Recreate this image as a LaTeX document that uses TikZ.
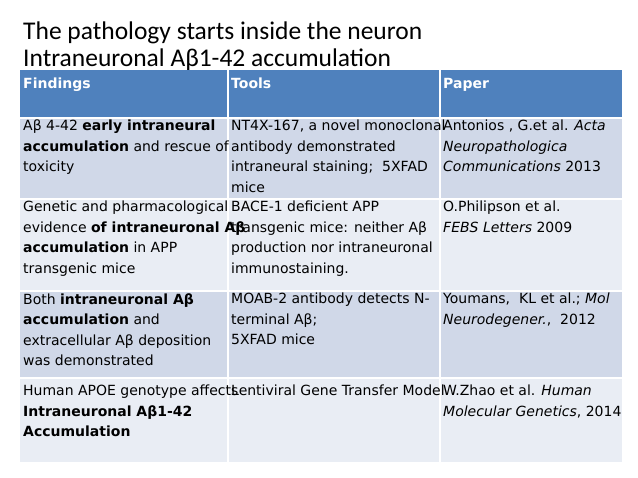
\documentclass[tikz,border=0pt]{standalone}
\usepackage{fontspec}
\setmainfont{DejaVu Sans}
\newfontfamily\titlefont{Carlito}
\definecolor{hdblue}{HTML}{4F81BD}
\definecolor{rowdark}{HTML}{D0D8E8}
\definecolor{rowlight}{HTML}{E9EDF4}
\tikzset{
  cell/.style={anchor=north west, inner sep=0pt, align=left, font=\fontsize{14}{20.5}\selectfont},
  head/.style={cell, text=white, font=\fontsize{14}{20.5}\selectfont\bfseries},
}
\begin{document}
\begin{tikzpicture}[x=1pt,y=-1pt]
\useasboundingbox (0,0) rectangle (638,478);
\fill[white] (0,0) rectangle (638,478);
\node[anchor=west, inner sep=0pt, font=\titlefont\fontsize{25.5}{30}\selectfont] (title1) at (23,33) {The pathology starts inside the neuron};
\node[anchor=west, inner sep=0pt, font=\titlefont\fontsize{25.5}{30}\selectfont] (title2) at (23,60) {Intraneuronal Aβ1-42 accumulation};
% rows
\fill[hdblue] (20,70) rectangle (622,118);
\fill[rowdark] (20,118) rectangle (622,199);
\fill[rowlight] (20,199) rectangle (622,291);
\fill[rowdark] (20,291) rectangle (622,378);
\fill[rowlight] (20,378) rectangle (622,462);
\foreach \y in {118,199,291,378} \draw[white, line width=1.2pt] (20,\y) -- (622,\y);
\foreach \x in {228,440} \draw[white, line width=1.2pt] (\x,70) -- (\x,462);
% header
\node[head] (hfind) at (23,78) {Findings};
\node[head] (htool) at (231,78) {Tools};
\node[head] (hpap) at (443,78) {Paper};
% row 1
\node[cell] (find1) at (23,120) {Aβ 4-42 \textbf{early intraneural}\\\textbf{accumulation} and rescue of\\toxicity};
\node[cell] (tool1) at (231,120) {NT4X-167, a novel monoclonal\\antibody demonstrated\\intraneural staining;\ \ 5XFAD\\mice};
\node[cell] (pap1) at (443,120) {Antonios , G.et al. \textit{Acta}\\\textit{Neuropathologica}\\\textit{Communications} 2013};
% row 2
\node[cell] (find2) at (23,201) {Genetic and pharmacological\\evidence \textbf{of intraneuronal Aβ}\\\textbf{accumulation} in APP\\transgenic mice};
\node[cell] (tool2) at (231,201) {BACE-1 deficient APP\\transgenic mice: neither Aβ\\production nor intraneuronal\\immunostaining.};
\node[cell] (pap2) at (443,201) {O.Philipson et al.\\\textit{FEBS Letters} 2009};
% row 3
\node[cell] (find3) at (23,293) {Both \textbf{intraneuronal Aβ}\\\textbf{accumulation} and\\extracellular Aβ deposition\\was demonstrated};
\node[cell] (tool3) at (231,293) {MOAB-2 antibody detects N-\\terminal Aβ;\\5XFAD mice};
\node[cell] (pap3) at (443,293) {Youmans,\ \ KL et al.; \textit{Mol}\\\textit{Neurodegener.},\ \ 2012};
% row 4
\node[cell] (find4) at (23,385) {Human APOE genotype affects\\\textbf{Intraneuronal Aβ1-42}\\\textbf{Accumulation}};
\node[cell] (tool4) at (231,385) {Lentiviral Gene Transfer Model};
\node[cell] (pap4) at (443,385) {W.Zhao et al. \textit{Human}\\\textit{Molecular Genetics}, 2014};
\end{tikzpicture}
\end{document}
